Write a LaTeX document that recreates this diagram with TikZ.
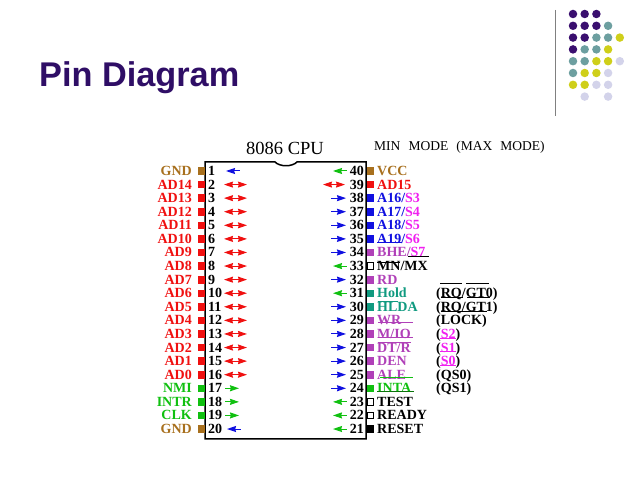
\documentclass[tikz,border=0pt]{standalone}
\usepackage{fontspec}
\setmainfont{Liberation Serif}
\newfontfamily\titlefont{Liberation Sans}
\usetikzlibrary{arrows.meta}
\definecolor{titlepurple}{HTML}{2F0E66}
\definecolor{dotpurple}{HTML}{3A0F6F}
\definecolor{dotteal}{HTML}{6D9FA0}
\definecolor{dotyellow}{HTML}{CFCF1A}
\definecolor{dotlav}{HTML}{D3D3EA}
\definecolor{pinbrown}{HTML}{A8701E}
\definecolor{pinred}{HTML}{F01010}
\definecolor{pinblue}{HTML}{1010E0}
\definecolor{pinpurple}{HTML}{B040B8}
\definecolor{pinmagenta}{HTML}{F020F0}
\definecolor{pingreen}{HTML}{10C010}
\definecolor{pinteal}{HTML}{109A80}
\tikzset{
    pintext/.style = {inner sep = 0pt, font = \fontsize{14}{14}\selectfont\bfseries},
    pinsquare/.style = {draw, line width = 0.8pt, minimum size = 6.6pt, inner sep = 0pt},
    pinarrow/.style = {line width = 1pt, >={Stealth[length = 9pt, width = 6pt, inset = 0.8pt, sep = 0pt]}},
    dotmark/.style = {circle, minimum size = 8.5pt, inner sep = 0pt},
    barline/.style = {line width = 0.9pt}
}

\begin{document}
\begin{tikzpicture}[x = 1pt, y = -1pt]
    \useasboundingbox (0, 0) rectangle (638, 478);

    \node[anchor = base west, inner sep = 0pt, text = titlepurple, font = \titlefont\fontsize{34.3}{34.3}\selectfont\bfseries] (title) at (39, 87) {Pin Diagram};

    % corner decoration
    \draw[gray, line width = 0.9pt] (555, 10) -- (555, 116);
    \foreach \cx/\cy in {0/0, 1/0, 2/0, 0/1, 1/1, 2/1, 0/2, 1/2, 0/3}
        \node[dotmark, fill = dotpurple] (dot-p-\cx-\cy) at (573 + 11.7*\cx, 14 + 11.8*\cy) {};
    \foreach \cx/\cy in {3/1, 2/2, 3/2, 1/3, 2/3, 0/4, 1/4, 0/5}
        \node[dotmark, fill = dotteal] (dot-t-\cx-\cy) at (573 + 11.7*\cx, 14 + 11.8*\cy) {};
    \foreach \cx/\cy in {4/2, 3/3, 2/4, 3/4, 1/5, 2/5, 0/6, 1/6}
        \node[dotmark, fill = dotyellow] (dot-y-\cx-\cy) at (573 + 11.7*\cx, 14 + 11.8*\cy) {};
    \foreach \cx/\cy in {4/4, 3/5, 2/6, 3/6, 1/7, 3/7}
        \node[dotmark, fill = dotlav] (dot-l-\cx-\cy) at (573 + 11.7*\cx, 14 + 11.8*\cy) {};

    % chip outline
    \coordinate (chip_nw) at (205, 162);
    \coordinate (chip_ne) at (366, 162);
    \coordinate (chip_se) at (366, 439);
    \coordinate (chip_sw) at (205, 439);
    \draw[black, line width = 1.5pt] (chip_nw) -- (275, 162) .. controls (280, 167) and (292, 167) .. (297, 162) -- (chip_ne) -- (chip_se) -- (chip_sw) -- cycle;

    \node[inner sep = 0pt, font = \fontsize{18.5}{18.5}\selectfont] (cpu) at (285, 148) {8086 CPU};
    \node[anchor = base west, inner sep = 0pt, font = \fontsize{13.5}{13.5}\selectfont] (mode) at (374, 151) {MIN\hspace{0.6em}MODE\hspace{0.6em}(MAX\hspace{0.6em}MODE)};

    % left pins
    \foreach \n/\lbl/\col/\acol/\tip/\xa/\xb in {
        1/GND/pinbrown/pinblue/<-/226/240,
        2/AD14/pinred/pinred/<->/224/247,
        3/AD13/pinred/pinred/<->/224/247,
        4/AD12/pinred/pinred/<->/224/247,
        5/AD11/pinred/pinred/<->/224/247,
        6/AD10/pinred/pinred/<->/224/247,
        7/AD9/pinred/pinred/<->/224/247,
        8/AD8/pinred/pinred/<->/224/247,
        9/AD7/pinred/pinred/<->/224/247,
        10/AD6/pinred/pinred/<->/224/247,
        11/AD5/pinred/pinred/<->/224/247,
        12/AD4/pinred/pinred/<->/224/247,
        13/AD3/pinred/pinred/<->/224/247,
        14/AD2/pinred/pinred/<->/224/247,
        15/AD1/pinred/pinred/<->/224/247,
        16/AD0/pinred/pinred/<->/224/247,
        17/NMI/pingreen/pingreen/->/225/239,
        18/INTR/pingreen/pingreen/->/225/239,
        19/CLK/pingreen/pingreen/->/225/239,
        20/GND/pinbrown/pinblue/<-/227/241}
    {
        \pgfmathsetmacro{\py}{171 + (\n - 1)*13.58}
        \node[pinsquare, draw = \col, fill = \col] (sq\n) at (201.5, \py) {};
        \node[pintext, anchor = base east, text = \col] (lbl\n) at (192, \py + 4.5) {\lbl};
        \node[pintext, anchor = base west] (num\n) at (208, \py + 4.5) {\n};
        \coordinate (a\n) at (\xa, \py);
        \coordinate (b\n) at (\xb, \py);
        \draw[pinarrow, \tip, \acol] (a\n) -- (b\n);
    }

    % right pins
    \foreach \n/\lbl/\col/\fillcol/\acol/\tip/\xa/\xb in {
        40/{VCC}/pinbrown/pinbrown/pingreen/<-/333/347,
        39/{AD15}/pinred/pinred/pinred/<->/323/345,
        38/{A16/\textcolor{pinmagenta}{S3}}/pinblue/pinblue/pinblue/->/331/346,
        37/{A17/\textcolor{pinmagenta}{S4}}/pinblue/pinblue/pinblue/->/331/346,
        36/{A18/\textcolor{pinmagenta}{S5}}/pinblue/pinblue/pinblue/->/331/346,
        35/{A19/\textcolor{pinmagenta}{S6}}/pinblue/pinblue/pinblue/->/331/346,
        34/{BHE/\textcolor{pinmagenta}{S7}}/pinpurple/pinpurple/pinblue/->/331/346,
        33/{MN/MX}/black/white/pingreen/<-/333/347,
        32/{RD}/pinpurple/pinpurple/pinblue/->/331/346,
        31/{Hold}/pinteal/pinteal/pingreen/<-/333/347,
        30/{HLDA}/pinteal/pinteal/pinblue/->/331/346,
        29/{WR}/pinpurple/pinpurple/pinblue/->/331/346,
        28/{M/IO}/pinpurple/pinpurple/pinblue/->/331/346,
        27/{DT/R}/pinpurple/pinpurple/pinblue/->/331/346,
        26/{DEN}/pinpurple/pinpurple/pinblue/->/331/346,
        25/{ALE}/pinpurple/pinpurple/pinblue/->/331/346,
        24/{INTA}/pingreen/pingreen/pinblue/->/331/346,
        23/{TEST}/black/white/pingreen/<-/333/347,
        22/{READY}/black/white/pingreen/<-/333/347,
        21/{RESET}/black/black/pingreen/<-/333/347}
    {
        \pgfmathsetmacro{\py}{171 + (40 - \n)*13.58}
        \node[pinsquare, draw = \col, fill = \fillcol] (sq\n) at (370.5, \py) {};
        \node[pintext, anchor = base west, text = \col] (lbl\n) at (377, \py + 4.5) {\lbl};
        \node[pintext, anchor = base east] (num\n) at (364, \py + 4.5) {\n};
        \coordinate (a\n) at (\xa, \py);
        \coordinate (b\n) at (\xb, \py);
        \draw[pinarrow, \tip, \acol] (a\n) -- (b\n);
    }

    % max mode names
    \foreach \n/\lbl in {31/{(RQ/GT0)}, 30/{(RQ/GT1)}, 29/{(LOCK)}, 28/{(\textcolor{pinmagenta}{S2})}, 27/{(\textcolor{pinmagenta}{S1})}, 26/{(\textcolor{pinmagenta}{S0})}, 25/{(QS0)}, 24/{(QS1)}}
    {
        \pgfmathsetmacro{\py}{171 + (40 - \n)*13.58}
        \node[pintext, anchor = base west] (max\n) at (436, \py + 4.5) {\lbl};
    }

    % bars over the active low names
    \draw[barline, pinblue] (377, 242) -- (402, 242);
    \draw[barline, black] (408, 256) -- (429, 256);
    \draw[barline, black] (377, 262) -- (400, 262);
    \draw[barline, pinteal] (378, 301) -- (398, 301);
    \draw[barline, pinpurple] (378, 322) -- (413, 322);
    \draw[barline, pinpurple] (378, 337) -- (413, 337);
    \draw[barline, pinpurple] (378, 342) -- (411, 342);
    \draw[barline, pingreen] (380, 377) -- (413, 377);
    \draw[barline, pingreen!60!black] (377, 391) -- (414, 391);
    \draw[barline, black] (440, 283) -- (462, 283);
    \draw[barline, black] (466, 283) -- (489, 283);
    \draw[barline, black] (441, 297) -- (463, 297);
    \draw[barline, black] (467, 297) -- (490, 297);
    \draw[barline, black] (441, 311) -- (487, 311);
    \draw[barline, pinmagenta] (440, 338) -- (456, 338);
    \draw[barline, pinmagenta] (440, 351) -- (456, 351);
    \draw[barline, pinmagenta] (440, 365) -- (456, 365);
\end{tikzpicture}
\end{document}
